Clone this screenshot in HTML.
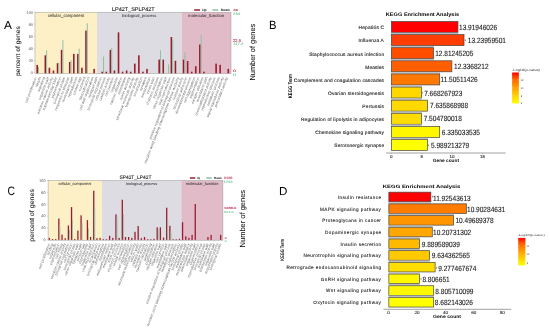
<!DOCTYPE html>
<html><head><meta charset="utf-8"><style>
html,body{margin:0;padding:0;background:#fff;}
svg{display:block;font-family:"Liberation Sans",sans-serif;text-rendering:geometricPrecision;}
</style></head><body>
<svg width="550" height="331" viewBox="0 0 550 331">
<defs><filter id="gb" x="0" y="0" width="550" height="331" filterUnits="userSpaceOnUse"><feGaussianBlur stdDeviation="0.3"/></filter></defs>
<g filter="url(#gb)">
<rect width="550" height="331" fill="#fff"/>
<text x="4.1" y="28.8" font-size="11.74" textLength="7.92" lengthAdjust="spacingAndGlyphs" fill="#000">A</text>
<text x="269.1" y="28.8" font-size="11.88" textLength="7.48" lengthAdjust="spacingAndGlyphs" fill="#000">B</text>
<text x="7.38" y="194.98" font-size="12.25" textLength="7.51" lengthAdjust="spacingAndGlyphs" fill="#000">C</text>
<text x="279.07" y="194.8" font-size="11.59" textLength="8.37" lengthAdjust="spacingAndGlyphs" fill="#000">D</text>
<rect x="35" y="12.2" width="62" height="61.4" fill="#fdf0c6"/>
<rect x="97" y="12.2" width="84.9" height="61.4" fill="#dcdce2"/>
<rect x="181.9" y="12.2" width="49.1" height="61.4" fill="#e1bcc8"/>
<rect x="35" y="12.2" width="196" height="61.4" fill="none" stroke="#9a9a9a" stroke-width="0.5"/>
<rect x="36.4" y="65" width="1.6" height="8.3" fill="#9b1d2e"/>
<rect x="38" y="66.8" width="1" height="6.5" fill="#8fc0a4"/>
<rect x="44.53" y="55.3" width="1.6" height="18" fill="#9b1d2e"/>
<rect x="46.13" y="50.3" width="1" height="23" fill="#8fc0a4"/>
<rect x="48.6" y="67.7" width="1.6" height="5.6" fill="#9b1d2e"/>
<rect x="52.66" y="70.5" width="1.6" height="2.8" fill="#9b1d2e"/>
<rect x="56.73" y="63.2" width="1.6" height="10.1" fill="#9b1d2e"/>
<rect x="58.33" y="62.6" width="1" height="10.7" fill="#8fc0a4"/>
<rect x="60.8" y="49.9" width="1.6" height="23.4" fill="#9b1d2e"/>
<rect x="62.4" y="40.2" width="1" height="33.1" fill="#8fc0a4"/>
<rect x="68.93" y="62" width="1.6" height="11.3" fill="#9b1d2e"/>
<rect x="70.53" y="60.2" width="1" height="13.1" fill="#8fc0a4"/>
<rect x="72.99" y="53.9" width="1.6" height="19.4" fill="#9b1d2e"/>
<rect x="77.06" y="53.9" width="1.6" height="19.4" fill="#9b1d2e"/>
<rect x="78.66" y="48.7" width="1" height="24.6" fill="#8fc0a4"/>
<rect x="81.13" y="67.7" width="1.6" height="5.6" fill="#9b1d2e"/>
<rect x="85.19" y="30.6" width="1.6" height="42.7" fill="#9b1d2e"/>
<rect x="86.79" y="23.3" width="1" height="50" fill="#8fc0a4"/>
<rect x="93.32" y="68.9" width="1.6" height="4.4" fill="#9b1d2e"/>
<rect x="101.46" y="71.7" width="1.6" height="1.6" fill="#9b1d2e"/>
<rect x="103.06" y="56.6" width="1" height="16.7" fill="#8fc0a4"/>
<rect x="105.52" y="71.7" width="1.6" height="1.6" fill="#9b1d2e"/>
<rect x="109.59" y="49.9" width="1.6" height="23.4" fill="#9b1d2e"/>
<rect x="111.19" y="48.1" width="1" height="25.2" fill="#8fc0a4"/>
<rect x="113.65" y="70.5" width="1.6" height="2.8" fill="#9b1d2e"/>
<rect x="117.72" y="32.4" width="1.6" height="40.9" fill="#9b1d2e"/>
<rect x="121.79" y="71.7" width="1.6" height="1.6" fill="#9b1d2e"/>
<rect x="125.85" y="70.5" width="1.6" height="2.8" fill="#9b1d2e"/>
<rect x="129.92" y="71.7" width="1.6" height="1.6" fill="#9b1d2e"/>
<rect x="133.98" y="63.6" width="1.6" height="9.7" fill="#9b1d2e"/>
<rect x="138.05" y="55.3" width="1.6" height="18" fill="#9b1d2e"/>
<rect x="142.12" y="71.7" width="1.6" height="1.6" fill="#9b1d2e"/>
<rect x="146.18" y="68.9" width="1.6" height="4.4" fill="#9b1d2e"/>
<rect x="158.38" y="59.6" width="1.6" height="13.7" fill="#9b1d2e"/>
<rect x="159.98" y="50.3" width="1" height="23" fill="#8fc0a4"/>
<rect x="162.45" y="59.6" width="1.6" height="13.7" fill="#9b1d2e"/>
<rect x="168.11" y="64.4" width="1" height="8.9" fill="#8fc0a4"/>
<rect x="170.58" y="37" width="1.6" height="36.3" fill="#9b1d2e"/>
<rect x="172.18" y="39.6" width="1" height="33.7" fill="#8fc0a4"/>
<rect x="174.64" y="60.8" width="1.6" height="12.5" fill="#9b1d2e"/>
<rect x="182.78" y="59.6" width="1.6" height="13.7" fill="#9b1d2e"/>
<rect x="184.38" y="52.3" width="1" height="21" fill="#8fc0a4"/>
<rect x="186.84" y="61" width="1.6" height="12.3" fill="#9b1d2e"/>
<rect x="190.91" y="71.7" width="1.6" height="1.6" fill="#9b1d2e"/>
<rect x="194.97" y="66.2" width="1.6" height="7.1" fill="#9b1d2e"/>
<rect x="199.04" y="44.5" width="1.6" height="28.8" fill="#9b1d2e"/>
<rect x="200.64" y="34.8" width="1" height="38.5" fill="#8fc0a4"/>
<rect x="203.11" y="71.7" width="1.6" height="1.6" fill="#9b1d2e"/>
<rect x="215.3" y="63.6" width="1.6" height="9.7" fill="#9b1d2e"/>
<rect x="219.37" y="64.8" width="1.6" height="8.5" fill="#9b1d2e"/>
<rect x="227.5" y="68.9" width="1.6" height="4.4" fill="#9b1d2e"/>
<rect x="48.1" y="180.5" width="53.9" height="59.7" fill="#fdf0c6"/>
<rect x="102" y="180.5" width="79.3" height="59.7" fill="#dcdce2"/>
<rect x="181.3" y="180.5" width="41.6" height="59.7" fill="#e1bcc8"/>
<rect x="48.1" y="180.5" width="174.8" height="59.7" fill="none" stroke="#9a9a9a" stroke-width="0.5"/>
<rect x="48.7" y="237.9" width="1.3" height="2" fill="#9b1d2e"/>
<rect x="51.87" y="239" width="1.3" height="0.9" fill="#9b1d2e"/>
<rect x="55.04" y="239" width="1.3" height="0.9" fill="#9b1d2e"/>
<rect x="58.22" y="218.5" width="1.3" height="21.4" fill="#9b1d2e"/>
<rect x="59.52" y="226.1" width="0.8" height="13.8" fill="#8fc0a4"/>
<rect x="61.39" y="234.6" width="1.3" height="5.3" fill="#9b1d2e"/>
<rect x="64.56" y="238.2" width="1.3" height="1.7" fill="#9b1d2e"/>
<rect x="67.73" y="225.5" width="1.3" height="14.4" fill="#9b1d2e"/>
<rect x="69.03" y="229.8" width="0.8" height="10.1" fill="#8fc0a4"/>
<rect x="70.9" y="207.1" width="1.3" height="32.8" fill="#9b1d2e"/>
<rect x="72.2" y="219.5" width="0.8" height="20.4" fill="#8fc0a4"/>
<rect x="74.08" y="239" width="1.3" height="0.9" fill="#9b1d2e"/>
<rect x="77.25" y="230.6" width="1.3" height="9.3" fill="#9b1d2e"/>
<rect x="80.42" y="215.3" width="1.3" height="24.6" fill="#9b1d2e"/>
<rect x="81.72" y="223.1" width="0.8" height="16.8" fill="#8fc0a4"/>
<rect x="86.76" y="220.1" width="1.3" height="19.8" fill="#9b1d2e"/>
<rect x="88.06" y="228.5" width="0.8" height="11.4" fill="#8fc0a4"/>
<rect x="89.94" y="237" width="1.3" height="2.9" fill="#9b1d2e"/>
<rect x="93.11" y="190.7" width="1.3" height="49.2" fill="#9b1d2e"/>
<rect x="94.41" y="208.5" width="0.8" height="31.4" fill="#8fc0a4"/>
<rect x="96.28" y="238.2" width="1.3" height="1.7" fill="#9b1d2e"/>
<rect x="99.45" y="237.9" width="1.3" height="2" fill="#9b1d2e"/>
<rect x="102.62" y="239.2" width="1.3" height="0.7" fill="#9b1d2e"/>
<rect x="105.8" y="239.2" width="1.3" height="0.7" fill="#9b1d2e"/>
<rect x="108.97" y="235.8" width="1.3" height="4.1" fill="#9b1d2e"/>
<rect x="112.14" y="237.9" width="1.3" height="2" fill="#9b1d2e"/>
<rect x="115.31" y="214.4" width="1.3" height="25.5" fill="#9b1d2e"/>
<rect x="116.61" y="217.1" width="0.8" height="22.8" fill="#8fc0a4"/>
<rect x="118.48" y="237.9" width="1.3" height="2" fill="#9b1d2e"/>
<rect x="121.66" y="199.7" width="1.3" height="40.2" fill="#9b1d2e"/>
<rect x="122.96" y="214" width="0.8" height="25.9" fill="#8fc0a4"/>
<rect x="124.83" y="237" width="1.3" height="2.9" fill="#9b1d2e"/>
<rect x="128" y="237" width="1.3" height="2.9" fill="#9b1d2e"/>
<rect x="131.17" y="237.9" width="1.3" height="2" fill="#9b1d2e"/>
<rect x="134.34" y="231.8" width="1.3" height="8.1" fill="#9b1d2e"/>
<rect x="137.52" y="226.1" width="1.3" height="13.8" fill="#9b1d2e"/>
<rect x="140.69" y="238.2" width="1.3" height="1.7" fill="#9b1d2e"/>
<rect x="143.86" y="237" width="1.3" height="2.9" fill="#9b1d2e"/>
<rect x="147.03" y="239.2" width="1.3" height="0.7" fill="#9b1d2e"/>
<rect x="150.2" y="239.2" width="1.3" height="0.7" fill="#9b1d2e"/>
<rect x="153.38" y="238.8" width="1.3" height="1.1" fill="#9b1d2e"/>
<rect x="156.55" y="227.3" width="1.3" height="12.6" fill="#9b1d2e"/>
<rect x="157.85" y="229.2" width="0.8" height="10.7" fill="#8fc0a4"/>
<rect x="159.72" y="227.3" width="1.3" height="12.6" fill="#9b1d2e"/>
<rect x="162.89" y="237.6" width="1.3" height="2.3" fill="#9b1d2e"/>
<rect x="166.06" y="207.7" width="1.3" height="32.2" fill="#9b1d2e"/>
<rect x="167.36" y="220.7" width="0.8" height="19.2" fill="#8fc0a4"/>
<rect x="169.24" y="225.8" width="1.3" height="14.1" fill="#9b1d2e"/>
<rect x="170.54" y="231.6" width="0.8" height="8.3" fill="#8fc0a4"/>
<rect x="172.41" y="239.2" width="1.3" height="0.7" fill="#9b1d2e"/>
<rect x="175.58" y="239.2" width="1.3" height="0.7" fill="#9b1d2e"/>
<rect x="178.75" y="238.8" width="1.3" height="1.1" fill="#9b1d2e"/>
<rect x="181.92" y="222.2" width="1.3" height="17.7" fill="#9b1d2e"/>
<rect x="185.1" y="236.3" width="1.3" height="3.6" fill="#9b1d2e"/>
<rect x="188.27" y="237.8" width="1.3" height="2.1" fill="#9b1d2e"/>
<rect x="191.44" y="234.9" width="1.3" height="5" fill="#9b1d2e"/>
<rect x="194.61" y="204" width="1.3" height="35.9" fill="#9b1d2e"/>
<rect x="207.3" y="237" width="1.3" height="2.9" fill="#9b1d2e"/>
<rect x="210.47" y="234.9" width="1.3" height="5" fill="#9b1d2e"/>
<rect x="219.99" y="234.9" width="1.3" height="5" fill="#9b1d2e"/>
<text x="30.87" y="74" font-size="3.9" textLength="2.17" lengthAdjust="spacingAndGlyphs" fill="#8a8a8a" stroke="#8a8a8a" stroke-width="0.12">0</text>
<line x1="33.9" y1="72.6" x2="35" y2="72.6" stroke="#999" stroke-width="0.4"/>
<text x="28.71" y="61.9" font-size="3.9" textLength="4.34" lengthAdjust="spacingAndGlyphs" fill="#8a8a8a" stroke="#8a8a8a" stroke-width="0.12">20</text>
<line x1="33.9" y1="60.5" x2="35" y2="60.5" stroke="#999" stroke-width="0.4"/>
<text x="28.71" y="49.9" font-size="3.9" textLength="4.34" lengthAdjust="spacingAndGlyphs" fill="#8a8a8a" stroke="#8a8a8a" stroke-width="0.12">40</text>
<line x1="33.9" y1="48.5" x2="35" y2="48.5" stroke="#999" stroke-width="0.4"/>
<text x="28.71" y="37.7" font-size="3.9" textLength="4.34" lengthAdjust="spacingAndGlyphs" fill="#8a8a8a" stroke="#8a8a8a" stroke-width="0.12">60</text>
<line x1="33.9" y1="36.3" x2="35" y2="36.3" stroke="#999" stroke-width="0.4"/>
<text x="28.71" y="25.6" font-size="3.9" textLength="4.34" lengthAdjust="spacingAndGlyphs" fill="#8a8a8a" stroke="#8a8a8a" stroke-width="0.12">80</text>
<line x1="33.9" y1="24.2" x2="35" y2="24.2" stroke="#999" stroke-width="0.4"/>
<text x="26.54" y="13.5" font-size="3.9" textLength="6.51" lengthAdjust="spacingAndGlyphs" fill="#8a8a8a" stroke="#8a8a8a" stroke-width="0.12">100</text>
<line x1="33.9" y1="12.1" x2="35" y2="12.1" stroke="#999" stroke-width="0.4"/>
<text x="111.96" y="10.9" font-size="5.43" textLength="42.66" lengthAdjust="spacingAndGlyphs" fill="#111" stroke="#111" stroke-width="0.08">LP42T_SPLP42T</text>
<rect x="194.2" y="9.3" width="5.8" height="1.4" fill="#8e1426"/>
<rect x="212.4" y="9.3" width="5.8" height="1.4" fill="#86bd9c"/>
<text x="201.93" y="11" font-size="3.04" textLength="4.52" lengthAdjust="spacingAndGlyphs" fill="#222" stroke="#222" stroke-width="0.1">Up</text>
<text x="220.72" y="11" font-size="3.04" textLength="9.02" lengthAdjust="spacingAndGlyphs" fill="#222" stroke="#222" stroke-width="0.1">Down</text>
<text x="47.73" y="16.8" font-size="4.41" textLength="36.5" lengthAdjust="spacingAndGlyphs" fill="#333" stroke="#333" stroke-width="0.03">cellular_component</text>
<text x="122.13" y="16.8" font-size="4.14" textLength="34.23" lengthAdjust="spacingAndGlyphs" fill="#333" stroke="#333" stroke-width="0.03">biological_process</text>
<text x="188.12" y="16.8" font-size="4.14" textLength="36.15" lengthAdjust="spacingAndGlyphs" fill="#333" stroke="#333" stroke-width="0.03">molecular_function</text>
<text x="233.21" y="10.9" font-size="2.9" textLength="4.98" lengthAdjust="spacingAndGlyphs" fill="#c8506e" stroke="#c8506e" stroke-width="0.15">45</text>
<text x="233.09" y="14.8" font-size="3.57" textLength="6.95" lengthAdjust="spacingAndGlyphs" fill="#8fcaa8" stroke="#8fcaa8" stroke-width="0.15">234</text>
<text x="232.68" y="41.8" font-size="4.14" textLength="8.5" lengthAdjust="spacingAndGlyphs" fill="#c8506e" stroke="#c8506e" stroke-width="0.15">22.5</text>
<text x="233.3" y="45.2" font-size="3.57" textLength="9.86" lengthAdjust="spacingAndGlyphs" fill="#8fcaa8" stroke="#8fcaa8" stroke-width="0.15">117.0</text>
<text x="232.86" y="72.2" font-size="3.43" textLength="3.36" lengthAdjust="spacingAndGlyphs" fill="#c8506e" stroke="#c8506e" stroke-width="0.15">0</text>
<text x="232.86" y="75.9" font-size="3.57" textLength="3.36" lengthAdjust="spacingAndGlyphs" fill="#8fcaa8" stroke="#8fcaa8" stroke-width="0.15">0</text>
<text x="-75.93" y="20.25" font-size="6.42" textLength="49.77" lengthAdjust="spacingAndGlyphs" fill="#111" stroke="#111" stroke-width="0.06" transform="rotate(-90 0 0)">percent of genes</text>
<text x="-80.59" y="254.97" font-size="7.27" textLength="56.86" lengthAdjust="spacingAndGlyphs" fill="#111" stroke="#111" stroke-width="0.06" transform="rotate(-90 0 0)">Number of genes</text>
<text x="43.42" y="241.17" font-size="3.8" textLength="2.11" lengthAdjust="spacingAndGlyphs" fill="#8a8a8a" stroke="#8a8a8a" stroke-width="0.12">0</text>
<line x1="47" y1="239.8" x2="48.1" y2="239.8" stroke="#999" stroke-width="0.4"/>
<text x="41.31" y="229.37" font-size="3.8" textLength="4.23" lengthAdjust="spacingAndGlyphs" fill="#8a8a8a" stroke="#8a8a8a" stroke-width="0.12">20</text>
<line x1="47" y1="228" x2="48.1" y2="228" stroke="#999" stroke-width="0.4"/>
<text x="41.31" y="217.47" font-size="3.8" textLength="4.23" lengthAdjust="spacingAndGlyphs" fill="#8a8a8a" stroke="#8a8a8a" stroke-width="0.12">40</text>
<line x1="47" y1="216.1" x2="48.1" y2="216.1" stroke="#999" stroke-width="0.4"/>
<text x="41.31" y="205.57" font-size="3.8" textLength="4.23" lengthAdjust="spacingAndGlyphs" fill="#8a8a8a" stroke="#8a8a8a" stroke-width="0.12">60</text>
<line x1="47" y1="204.2" x2="48.1" y2="204.2" stroke="#999" stroke-width="0.4"/>
<text x="41.31" y="193.77" font-size="3.8" textLength="4.23" lengthAdjust="spacingAndGlyphs" fill="#8a8a8a" stroke="#8a8a8a" stroke-width="0.12">80</text>
<line x1="47" y1="192.4" x2="48.1" y2="192.4" stroke="#999" stroke-width="0.4"/>
<text x="39.21" y="181.97" font-size="3.8" textLength="6.34" lengthAdjust="spacingAndGlyphs" fill="#8a8a8a" stroke="#8a8a8a" stroke-width="0.12">100</text>
<line x1="47" y1="180.6" x2="48.1" y2="180.6" stroke="#999" stroke-width="0.4"/>
<text x="119.38" y="179" font-size="5.14" textLength="32.12" lengthAdjust="spacingAndGlyphs" fill="#111" stroke="#111" stroke-width="0.08">SP42T_LP42T</text>
<rect x="189.9" y="177.3" width="5.4" height="1.4" fill="#8e1426"/>
<rect x="206.2" y="177.3" width="5.5" height="1.4" fill="#86bd9c"/>
<text x="197.02" y="178.9" font-size="2.75" textLength="3.09" lengthAdjust="spacingAndGlyphs" fill="#222" stroke="#222" stroke-width="0.1">Up</text>
<text x="213.96" y="178.9" font-size="2.75" textLength="7.74" lengthAdjust="spacingAndGlyphs" fill="#222" stroke="#222" stroke-width="0.1">Down</text>
<text x="58.55" y="185" font-size="4" textLength="32.78" lengthAdjust="spacingAndGlyphs" fill="#333" stroke="#333" stroke-width="0.03">cellular_component</text>
<text x="126.16" y="185" font-size="3.86" textLength="30.88" lengthAdjust="spacingAndGlyphs" fill="#333" stroke="#333" stroke-width="0.03">biological_process</text>
<text x="185.85" y="185" font-size="4" textLength="32.5" lengthAdjust="spacingAndGlyphs" fill="#333" stroke="#333" stroke-width="0.03">molecular_function</text>
<text x="223.7" y="179.2" font-size="3.14" textLength="8.9" lengthAdjust="spacingAndGlyphs" fill="#c8506e" stroke="#c8506e" stroke-width="0.15">2132</text>
<text x="223.6" y="182.8" font-size="3.29" textLength="8.96" lengthAdjust="spacingAndGlyphs" fill="#8fcaa8" stroke="#8fcaa8" stroke-width="0.15">1243</text>
<text x="224.11" y="209.3" font-size="3" textLength="12.03" lengthAdjust="spacingAndGlyphs" fill="#c8506e" stroke="#c8506e" stroke-width="0.15">1066.0</text>
<text x="224.21" y="212.5" font-size="2.86" textLength="9.45" lengthAdjust="spacingAndGlyphs" fill="#8fcaa8" stroke="#8fcaa8" stroke-width="0.15">621.5</text>
<text x="224.68" y="238.8" font-size="2.57" textLength="1.74" lengthAdjust="spacingAndGlyphs" fill="#c8506e" stroke="#c8506e" stroke-width="0.15">0</text>
<text x="224.68" y="242.1" font-size="2.57" textLength="1.74" lengthAdjust="spacingAndGlyphs" fill="#8fcaa8" stroke="#8fcaa8" stroke-width="0.15">0</text>
<text x="-241.66" y="34.03" font-size="6.52" textLength="52.61" lengthAdjust="spacingAndGlyphs" fill="#111" stroke="#111" stroke-width="0.06" transform="rotate(-90 0 0)">percent of genes</text>
<text x="-247.4" y="244.75" font-size="7.38" textLength="57.47" lengthAdjust="spacingAndGlyphs" fill="#111" stroke="#111" stroke-width="0.06" transform="rotate(-90 0 0)">Number of genes</text>
<defs><filter id="lb" x="-5%" y="-5%" width="110%" height="110%"><feGaussianBlur stdDeviation="0.28"/></filter></defs>
<g filter="url(#lb)">
<text x="147.6" y="310.4" font-size="14" text-anchor="end" textLength="109.62" lengthAdjust="spacingAndGlyphs" fill="#666" transform="scale(0.2500) rotate(-69.0 147.6 310.4)">cell proliferation</text>
<text x="163.86" y="310.4" font-size="14" text-anchor="end" textLength="41.8" lengthAdjust="spacingAndGlyphs" fill="#666" transform="scale(0.2500) rotate(-69.0 163.86 310.4)">death</text>
<text x="180.13" y="310.4" font-size="14" text-anchor="end" textLength="61.52" lengthAdjust="spacingAndGlyphs" fill="#666" transform="scale(0.2500) rotate(-69.0 180.13 310.4)">signaling</text>
<text x="196.39" y="310.4" font-size="14" text-anchor="end" textLength="96.72" lengthAdjust="spacingAndGlyphs" fill="#666" transform="scale(0.2500) rotate(-69.0 196.39 310.4)">organelle part</text>
<text x="212.66" y="310.4" font-size="14" text-anchor="end" textLength="156.6" lengthAdjust="spacingAndGlyphs" fill="#666" transform="scale(0.2500) rotate(-69.0 212.66 310.4)">electron carrier activity</text>
<text x="228.92" y="310.4" font-size="14" text-anchor="end" textLength="140.78" lengthAdjust="spacingAndGlyphs" fill="#666" transform="scale(0.2500) rotate(-69.0 228.92 310.4)">supramolecular fiber</text>
<text x="245.18" y="310.4" font-size="14" text-anchor="end" textLength="90.06" lengthAdjust="spacingAndGlyphs" fill="#666" transform="scale(0.2500) rotate(-69.0 245.18 310.4)">pigmentation</text>
<text x="261.45" y="310.4" font-size="14" text-anchor="end" textLength="113.78" lengthAdjust="spacingAndGlyphs" fill="#666" transform="scale(0.2500) rotate(-69.0 261.45 310.4)">biological phase</text>
<text x="277.71" y="310.4" font-size="14" text-anchor="end" textLength="141.56" lengthAdjust="spacingAndGlyphs" fill="#666" transform="scale(0.2500) rotate(-69.0 277.71 310.4)">response to stimulus</text>
<text x="293.98" y="310.4" font-size="14" text-anchor="end" textLength="105.1" lengthAdjust="spacingAndGlyphs" fill="#666" transform="scale(0.2500) rotate(-69.0 293.98 310.4)">membrane part</text>
<text x="310.24" y="310.4" font-size="14" text-anchor="end" textLength="86" lengthAdjust="spacingAndGlyphs" fill="#666" transform="scale(0.2500) rotate(-69.0 310.24 310.4)">reproduction</text>
<text x="326.5" y="310.4" font-size="14" text-anchor="end" textLength="74.05" lengthAdjust="spacingAndGlyphs" fill="#666" transform="scale(0.2500) rotate(-69.0 326.5 310.4)">protein tag</text>
<text x="342.77" y="310.4" font-size="14" text-anchor="end" textLength="58.03" lengthAdjust="spacingAndGlyphs" fill="#666" transform="scale(0.2500) rotate(-69.0 342.77 310.4)">nucleoid</text>
<text x="359.03" y="310.4" font-size="14" text-anchor="end" textLength="97.79" lengthAdjust="spacingAndGlyphs" fill="#666" transform="scale(0.2500) rotate(-69.0 359.03 310.4)">detoxification</text>
<text x="375.3" y="310.4" font-size="14" text-anchor="end" textLength="141.65" lengthAdjust="spacingAndGlyphs" fill="#666" transform="scale(0.2500) rotate(-69.0 375.3 310.4)">cell wall organization</text>
<text x="391.56" y="310.4" font-size="14" text-anchor="end" textLength="88.55" lengthAdjust="spacingAndGlyphs" fill="#666" transform="scale(0.2500) rotate(-69.0 391.56 310.4)">synapse part</text>
<text x="407.82" y="310.4" font-size="14" text-anchor="end" textLength="142.08" lengthAdjust="spacingAndGlyphs" fill="#666" transform="scale(0.2500) rotate(-69.0 407.82 310.4)">biological regulation</text>
<text x="424.09" y="310.4" font-size="14" text-anchor="end" textLength="101.05" lengthAdjust="spacingAndGlyphs" fill="#666" transform="scale(0.2500) rotate(-69.0 424.09 310.4)">cellular process</text>
<text x="440.35" y="310.4" font-size="14" text-anchor="end" textLength="100.6" lengthAdjust="spacingAndGlyphs" fill="#666" transform="scale(0.2500) rotate(-69.0 440.35 310.4)">catalytic activity</text>
<text x="456.62" y="310.4" font-size="14" text-anchor="end" textLength="81.64" lengthAdjust="spacingAndGlyphs" fill="#666" transform="scale(0.2500) rotate(-69.0 456.62 310.4)">cell junction</text>
<text x="472.88" y="310.4" font-size="14" text-anchor="end" textLength="65.34" lengthAdjust="spacingAndGlyphs" fill="#666" transform="scale(0.2500) rotate(-69.0 472.88 310.4)">organelle</text>
<text x="489.14" y="310.4" font-size="14" text-anchor="end" textLength="117.64" lengthAdjust="spacingAndGlyphs" fill="#666" transform="scale(0.2500) rotate(-69.0 489.14 310.4)">carbon utilization</text>
<text x="505.41" y="310.4" font-size="14" text-anchor="end" textLength="73.7" lengthAdjust="spacingAndGlyphs" fill="#666" transform="scale(0.2500) rotate(-69.0 505.41 310.4)">membrane</text>
<text x="521.67" y="310.4" font-size="14" text-anchor="end" textLength="96.29" lengthAdjust="spacingAndGlyphs" fill="#666" transform="scale(0.2500) rotate(-69.0 521.67 310.4)">toxin activity</text>
<text x="537.94" y="310.4" font-size="14" text-anchor="end" textLength="184.49" lengthAdjust="spacingAndGlyphs" fill="#666" transform="scale(0.2500) rotate(-69.0 537.94 310.4)">structural molecule activity</text>
<text x="554.2" y="310.4" font-size="14" text-anchor="end" textLength="128.23" lengthAdjust="spacingAndGlyphs" fill="#666" transform="scale(0.2500) rotate(-69.0 554.2 310.4)">transporter activity</text>
<text x="570.46" y="310.4" font-size="14" text-anchor="end" textLength="82.2" lengthAdjust="spacingAndGlyphs" fill="#666" transform="scale(0.2500) rotate(-69.0 570.46 310.4)">localization</text>
<text x="586.73" y="310.4" font-size="14" text-anchor="end" textLength="57.15" lengthAdjust="spacingAndGlyphs" fill="#666" transform="scale(0.2500) rotate(-69.0 586.73 310.4)">synapse</text>
<text x="602.99" y="310.4" font-size="14" text-anchor="end" textLength="86.34" lengthAdjust="spacingAndGlyphs" fill="#666" transform="scale(0.2500) rotate(-69.0 602.99 310.4)">locomotion</text>
<text x="619.26" y="310.4" font-size="14" text-anchor="end" textLength="72.18" lengthAdjust="spacingAndGlyphs" fill="#666" transform="scale(0.2500) rotate(-69.0 619.26 310.4)">virion part</text>
<text x="635.52" y="310.4" font-size="14" text-anchor="end" textLength="117.52" lengthAdjust="spacingAndGlyphs" fill="#666" transform="scale(0.2500) rotate(-69.0 635.52 310.4)">rhythmic process</text>
<text x="651.78" y="310.4" font-size="14" text-anchor="end" textLength="90.06" lengthAdjust="spacingAndGlyphs" fill="#666" transform="scale(0.2500) rotate(-69.0 651.78 310.4)">pigmentation</text>
<text x="668.05" y="310.4" font-size="14" text-anchor="end" textLength="136.73" lengthAdjust="spacingAndGlyphs" fill="#666" transform="scale(0.2500) rotate(-69.0 668.05 310.4)">other organism part</text>
<text x="684.31" y="310.4" font-size="14" text-anchor="end" textLength="121.12" lengthAdjust="spacingAndGlyphs" fill="#666" transform="scale(0.2500) rotate(-69.0 684.31 310.4)">viral reproduction</text>
<text x="700.58" y="310.4" font-size="14" text-anchor="end" textLength="265.52" lengthAdjust="spacingAndGlyphs" fill="#666" transform="scale(0.2500) rotate(-69.0 700.58 310.4)">positive regulation of biological process</text>
<text x="716.84" y="310.4" font-size="14" text-anchor="end" textLength="369.18" lengthAdjust="spacingAndGlyphs" fill="#666" transform="scale(0.2500) rotate(-69.0 716.84 310.4)">nucleic acid binding transcription factor activity</text>
<text x="733.1" y="310.4" font-size="14" text-anchor="end" textLength="96.87" lengthAdjust="spacingAndGlyphs" fill="#666" transform="scale(0.2500) rotate(-69.0 733.1 310.4)">receptor activity</text>
<text x="749.37" y="310.4" font-size="14" text-anchor="end" textLength="138.14" lengthAdjust="spacingAndGlyphs" fill="#666" transform="scale(0.2500) rotate(-69.0 749.37 310.4)">biological adhesion</text>
<text x="765.63" y="310.4" font-size="14" text-anchor="end" textLength="157.13" lengthAdjust="spacingAndGlyphs" fill="#666" transform="scale(0.2500) rotate(-69.0 765.63 310.4)">developmental process</text>
<text x="781.9" y="310.4" font-size="14" text-anchor="end" textLength="109.64" lengthAdjust="spacingAndGlyphs" fill="#666" transform="scale(0.2500) rotate(-69.0 781.9 310.4)">cell aggregation</text>
<text x="798.16" y="310.4" font-size="14" text-anchor="end" textLength="90.06" lengthAdjust="spacingAndGlyphs" fill="#666" transform="scale(0.2500) rotate(-69.0 798.16 310.4)">pigmentation</text>
<text x="814.42" y="310.4" font-size="14" text-anchor="end" textLength="113.85" lengthAdjust="spacingAndGlyphs" fill="#666" transform="scale(0.2500) rotate(-69.0 814.42 310.4)">nitrogen utilization</text>
<text x="830.69" y="310.4" font-size="14" text-anchor="end" textLength="105.1" lengthAdjust="spacingAndGlyphs" fill="#666" transform="scale(0.2500) rotate(-69.0 830.69 310.4)">membrane part</text>
<text x="846.95" y="310.4" font-size="14" text-anchor="end" textLength="164.62" lengthAdjust="spacingAndGlyphs" fill="#666" transform="scale(0.2500) rotate(-69.0 846.95 310.4)">chemoattractant activity</text>
<text x="863.22" y="310.4" font-size="14" text-anchor="end" textLength="141.49" lengthAdjust="spacingAndGlyphs" fill="#666" transform="scale(0.2500) rotate(-69.0 863.22 310.4)">reproductive process</text>
<text x="879.48" y="310.4" font-size="14" text-anchor="end" textLength="121.5" lengthAdjust="spacingAndGlyphs" fill="#666" transform="scale(0.2500) rotate(-69.0 879.48 310.4)">metabolic process</text>
<text x="895.74" y="310.4" font-size="14" text-anchor="end" textLength="172.46" lengthAdjust="spacingAndGlyphs" fill="#666" transform="scale(0.2500) rotate(-69.0 895.74 310.4)">signal transducer activity</text>
<text x="912.01" y="310.4" font-size="14" text-anchor="end" textLength="128.65" lengthAdjust="spacingAndGlyphs" fill="#666" transform="scale(0.2500) rotate(-69.0 912.01 310.4)">antioxidant activity</text>
<text x="201.2" y="975.6" font-size="14" text-anchor="end" textLength="109.62" lengthAdjust="spacingAndGlyphs" fill="#666" transform="scale(0.2500) rotate(-69.0 201.2 975.6)">cell proliferation</text>
<text x="213.89" y="975.6" font-size="14" text-anchor="end" textLength="50.02" lengthAdjust="spacingAndGlyphs" fill="#666" transform="scale(0.2500) rotate(-69.0 213.89 975.6)">binding</text>
<text x="226.58" y="975.6" font-size="14" text-anchor="end" textLength="65.34" lengthAdjust="spacingAndGlyphs" fill="#666" transform="scale(0.2500) rotate(-69.0 226.58 975.6)">organelle</text>
<text x="239.26" y="975.6" font-size="14" text-anchor="end" textLength="90.06" lengthAdjust="spacingAndGlyphs" fill="#666" transform="scale(0.2500) rotate(-69.0 239.26 975.6)">pigmentation</text>
<text x="251.95" y="975.6" font-size="14" text-anchor="end" textLength="65.6" lengthAdjust="spacingAndGlyphs" fill="#666" transform="scale(0.2500) rotate(-69.0 251.95 975.6)">cell killing</text>
<text x="264.64" y="975.6" font-size="14" text-anchor="end" textLength="152.58" lengthAdjust="spacingAndGlyphs" fill="#666" transform="scale(0.2500) rotate(-69.0 264.64 975.6)">electron carrier activity</text>
<text x="277.33" y="975.6" font-size="14" text-anchor="end" textLength="138.02" lengthAdjust="spacingAndGlyphs" fill="#666" transform="scale(0.2500) rotate(-69.0 277.33 975.6)">biological regulation</text>
<text x="290.02" y="975.6" font-size="14" text-anchor="end" textLength="81.64" lengthAdjust="spacingAndGlyphs" fill="#666" transform="scale(0.2500) rotate(-69.0 290.02 975.6)">cell junction</text>
<text x="302.7" y="975.6" font-size="14" text-anchor="end" textLength="113.78" lengthAdjust="spacingAndGlyphs" fill="#666" transform="scale(0.2500) rotate(-69.0 302.7 975.6)">biological phase</text>
<text x="315.39" y="975.6" font-size="14" text-anchor="end" textLength="136.73" lengthAdjust="spacingAndGlyphs" fill="#666" transform="scale(0.2500) rotate(-69.0 315.39 975.6)">other organism part</text>
<text x="328.08" y="975.6" font-size="14" text-anchor="end" textLength="88.55" lengthAdjust="spacingAndGlyphs" fill="#666" transform="scale(0.2500) rotate(-69.0 328.08 975.6)">synapse part</text>
<text x="340.77" y="975.6" font-size="14" text-anchor="end" textLength="74.05" lengthAdjust="spacingAndGlyphs" fill="#666" transform="scale(0.2500) rotate(-69.0 340.77 975.6)">protein tag</text>
<text x="353.46" y="975.6" font-size="14" text-anchor="end" textLength="86" lengthAdjust="spacingAndGlyphs" fill="#666" transform="scale(0.2500) rotate(-69.0 353.46 975.6)">reproduction</text>
<text x="366.14" y="975.6" font-size="14" text-anchor="end" textLength="96.72" lengthAdjust="spacingAndGlyphs" fill="#666" transform="scale(0.2500) rotate(-69.0 366.14 975.6)">organelle part</text>
<text x="378.83" y="975.6" font-size="14" text-anchor="end" textLength="121.12" lengthAdjust="spacingAndGlyphs" fill="#666" transform="scale(0.2500) rotate(-69.0 378.83 975.6)">viral reproduction</text>
<text x="391.52" y="975.6" font-size="14" text-anchor="end" textLength="82.2" lengthAdjust="spacingAndGlyphs" fill="#666" transform="scale(0.2500) rotate(-69.0 391.52 975.6)">localization</text>
<text x="404.21" y="975.6" font-size="14" text-anchor="end" textLength="138.14" lengthAdjust="spacingAndGlyphs" fill="#666" transform="scale(0.2500) rotate(-69.0 404.21 975.6)">biological adhesion</text>
<text x="416.9" y="975.6" font-size="14" text-anchor="end" textLength="89.64" lengthAdjust="spacingAndGlyphs" fill="#666" transform="scale(0.2500) rotate(-69.0 416.9 975.6)">detoxification</text>
<text x="429.58" y="975.6" font-size="14" text-anchor="end" textLength="73.7" lengthAdjust="spacingAndGlyphs" fill="#666" transform="scale(0.2500) rotate(-69.0 429.58 975.6)">membrane</text>
<text x="442.27" y="975.6" font-size="14" text-anchor="end" textLength="137.7" lengthAdjust="spacingAndGlyphs" fill="#666" transform="scale(0.2500) rotate(-69.0 442.27 975.6)">extracellular region</text>
<text x="454.96" y="975.6" font-size="14" text-anchor="end" textLength="105.1" lengthAdjust="spacingAndGlyphs" fill="#666" transform="scale(0.2500) rotate(-69.0 454.96 975.6)">membrane part</text>
<text x="467.65" y="975.6" font-size="14" text-anchor="end" textLength="80.24" lengthAdjust="spacingAndGlyphs" fill="#666" transform="scale(0.2500) rotate(-69.0 467.65 975.6)">toxin activity</text>
<text x="480.34" y="975.6" font-size="14" text-anchor="end" textLength="121.57" lengthAdjust="spacingAndGlyphs" fill="#666" transform="scale(0.2500) rotate(-69.0 480.34 975.6)">rhythmic process</text>
<text x="493.02" y="975.6" font-size="14" text-anchor="end" textLength="97.01" lengthAdjust="spacingAndGlyphs" fill="#666" transform="scale(0.2500) rotate(-69.0 493.02 975.6)">cellular process</text>
<text x="505.71" y="975.6" font-size="14" text-anchor="end" textLength="74.01" lengthAdjust="spacingAndGlyphs" fill="#666" transform="scale(0.2500) rotate(-69.0 505.71 975.6)">locomotion</text>
<text x="518.4" y="975.6" font-size="14" text-anchor="end" textLength="113.7" lengthAdjust="spacingAndGlyphs" fill="#666" transform="scale(0.2500) rotate(-69.0 518.4 975.6)">cell aggregation</text>
<text x="531.09" y="975.6" font-size="14" text-anchor="end" textLength="90.06" lengthAdjust="spacingAndGlyphs" fill="#666" transform="scale(0.2500) rotate(-69.0 531.09 975.6)">pigmentation</text>
<text x="543.78" y="975.6" font-size="14" text-anchor="end" textLength="180.48" lengthAdjust="spacingAndGlyphs" fill="#666" transform="scale(0.2500) rotate(-69.0 543.78 975.6)">structural molecule activity</text>
<text x="556.46" y="975.6" font-size="14" text-anchor="end" textLength="80.2" lengthAdjust="spacingAndGlyphs" fill="#666" transform="scale(0.2500) rotate(-69.0 556.46 975.6)">virion part</text>
<text x="569.15" y="975.6" font-size="14" text-anchor="end" textLength="96.57" lengthAdjust="spacingAndGlyphs" fill="#666" transform="scale(0.2500) rotate(-69.0 569.15 975.6)">catalytic activity</text>
<text x="581.84" y="975.6" font-size="14" text-anchor="end" textLength="104.94" lengthAdjust="spacingAndGlyphs" fill="#666" transform="scale(0.2500) rotate(-69.0 581.84 975.6)">receptor activity</text>
<text x="594.53" y="975.6" font-size="14" text-anchor="end" textLength="121.7" lengthAdjust="spacingAndGlyphs" fill="#666" transform="scale(0.2500) rotate(-69.0 594.53 975.6)">carbon utilization</text>
<text x="607.22" y="975.6" font-size="14" text-anchor="end" textLength="73.82" lengthAdjust="spacingAndGlyphs" fill="#666" transform="scale(0.2500) rotate(-69.0 607.22 975.6)">signaling</text>
<text x="619.9" y="975.6" font-size="14" text-anchor="end" textLength="90.06" lengthAdjust="spacingAndGlyphs" fill="#666" transform="scale(0.2500) rotate(-69.0 619.9 975.6)">pigmentation</text>
<text x="632.59" y="975.6" font-size="14" text-anchor="end" textLength="113.85" lengthAdjust="spacingAndGlyphs" fill="#666" transform="scale(0.2500) rotate(-69.0 632.59 975.6)">nitrogen utilization</text>
<text x="645.28" y="975.6" font-size="14" text-anchor="end" textLength="96.72" lengthAdjust="spacingAndGlyphs" fill="#666" transform="scale(0.2500) rotate(-69.0 645.28 975.6)">organelle part</text>
<text x="657.97" y="975.6" font-size="14" text-anchor="end" textLength="81.64" lengthAdjust="spacingAndGlyphs" fill="#666" transform="scale(0.2500) rotate(-69.0 657.97 975.6)">cell junction</text>
<text x="670.66" y="975.6" font-size="14" text-anchor="end" textLength="105.1" lengthAdjust="spacingAndGlyphs" fill="#666" transform="scale(0.2500) rotate(-69.0 670.66 975.6)">membrane part</text>
<text x="683.34" y="975.6" font-size="14" text-anchor="end" textLength="257.47" lengthAdjust="spacingAndGlyphs" fill="#666" transform="scale(0.2500) rotate(-69.0 683.34 975.6)">positive regulation of biological process</text>
<text x="696.03" y="975.6" font-size="14" text-anchor="end" textLength="121.5" lengthAdjust="spacingAndGlyphs" fill="#666" transform="scale(0.2500) rotate(-69.0 696.03 975.6)">metabolic process</text>
<text x="708.72" y="975.6" font-size="14" text-anchor="end" textLength="90.06" lengthAdjust="spacingAndGlyphs" fill="#666" transform="scale(0.2500) rotate(-69.0 708.72 975.6)">pigmentation</text>
<text x="721.41" y="975.6" font-size="14" text-anchor="end" textLength="353.13" lengthAdjust="spacingAndGlyphs" fill="#666" transform="scale(0.2500) rotate(-69.0 721.41 975.6)">nucleic acid binding transcription factor activity</text>
<text x="734.1" y="975.6" font-size="14" text-anchor="end" textLength="113.78" lengthAdjust="spacingAndGlyphs" fill="#666" transform="scale(0.2500) rotate(-69.0 734.1 975.6)">biological phase</text>
<text x="746.78" y="975.6" font-size="14" text-anchor="end" textLength="105.1" lengthAdjust="spacingAndGlyphs" fill="#666" transform="scale(0.2500) rotate(-69.0 746.78 975.6)">membrane part</text>
<text x="759.47" y="975.6" font-size="14" text-anchor="end" textLength="136.84" lengthAdjust="spacingAndGlyphs" fill="#666" transform="scale(0.2500) rotate(-69.0 759.47 975.6)">extracellular matrix</text>
<text x="772.16" y="975.6" font-size="14" text-anchor="end" textLength="120.61" lengthAdjust="spacingAndGlyphs" fill="#666" transform="scale(0.2500) rotate(-69.0 772.16 975.6)">antioxidant activity</text>
<text x="784.85" y="975.6" font-size="14" text-anchor="end" textLength="96.72" lengthAdjust="spacingAndGlyphs" fill="#666" transform="scale(0.2500) rotate(-69.0 784.85 975.6)">organelle part</text>
<text x="797.54" y="975.6" font-size="14" text-anchor="end" textLength="90.06" lengthAdjust="spacingAndGlyphs" fill="#666" transform="scale(0.2500) rotate(-69.0 797.54 975.6)">pigmentation</text>
<text x="810.22" y="975.6" font-size="14" text-anchor="end" textLength="145.53" lengthAdjust="spacingAndGlyphs" fill="#666" transform="scale(0.2500) rotate(-69.0 810.22 975.6)">reproductive process</text>
<text x="822.91" y="975.6" font-size="14" text-anchor="end" textLength="113.78" lengthAdjust="spacingAndGlyphs" fill="#666" transform="scale(0.2500) rotate(-69.0 822.91 975.6)">biological phase</text>
<text x="835.6" y="975.6" font-size="14" text-anchor="end" textLength="105.1" lengthAdjust="spacingAndGlyphs" fill="#666" transform="scale(0.2500) rotate(-69.0 835.6 975.6)">membrane part</text>
<text x="848.29" y="975.6" font-size="14" text-anchor="end" textLength="120.21" lengthAdjust="spacingAndGlyphs" fill="#666" transform="scale(0.2500) rotate(-69.0 848.29 975.6)">transporter activity</text>
<text x="860.98" y="975.6" font-size="14" text-anchor="end" textLength="96.72" lengthAdjust="spacingAndGlyphs" fill="#666" transform="scale(0.2500) rotate(-69.0 860.98 975.6)">organelle part</text>
<text x="873.66" y="975.6" font-size="14" text-anchor="end" textLength="128.97" lengthAdjust="spacingAndGlyphs" fill="#666" transform="scale(0.2500) rotate(-69.0 873.66 975.6)">morphogen activity</text>
<text x="886.35" y="975.6" font-size="14" text-anchor="end" textLength="113.78" lengthAdjust="spacingAndGlyphs" fill="#666" transform="scale(0.2500) rotate(-69.0 886.35 975.6)">biological phase</text>
</g>
<text x="385.84" y="16.4" font-size="5.1" textLength="73.3" lengthAdjust="spacingAndGlyphs" fill="#000" font-weight="bold">KEGG Enrichment Analysis</text>
<rect x="391.35" y="21.45" width="66.58" height="11" fill="#ff0000" stroke="#454545" stroke-width="0.7"/>
<text x="358.58" y="29.28" font-size="4.8" textLength="25.4" lengthAdjust="spacing" fill="#1e1e1e" stroke="#1e1e1e" stroke-width="0.12">Hepatitis C</text>
<text x="459.01" y="30.31" font-size="7.6" textLength="38.17" lengthAdjust="spacingAndGlyphs" fill="#1a1a1a" stroke="#1a1a1a" stroke-width="0.12">13.91946026</text>
<rect x="391" y="32.8" width="67.28" height="1.42" fill="#b9bcc2"/>
<rect x="391.35" y="34.57" width="72.66" height="11" fill="#ff3c00" stroke="#454545" stroke-width="0.7"/>
<text x="358.54" y="42.4" font-size="4.8" textLength="25.28" lengthAdjust="spacing" fill="#1e1e1e" stroke="#1e1e1e" stroke-width="0.12">Influenza A</text>
<text x="467.81" y="43.03" font-size="7.6" textLength="38.17" lengthAdjust="spacingAndGlyphs" fill="#1a1a1a" stroke="#1a1a1a" stroke-width="0.12">13.23959501</text>
<rect x="391" y="45.92" width="42.96" height="1.42" fill="#b9bcc2"/>
<rect x="391.35" y="47.69" width="42.26" height="11" fill="#ff4e00" stroke="#454545" stroke-width="0.7"/>
<text x="309.16" y="55.52" font-size="4.8" textLength="74.99" lengthAdjust="spacing" fill="#1e1e1e" stroke="#1e1e1e" stroke-width="0.12">Staphylococcus aureus infection</text>
<text x="435.21" y="56.15" font-size="7.6" textLength="38.17" lengthAdjust="spacingAndGlyphs" fill="#1a1a1a" stroke="#1a1a1a" stroke-width="0.12">12.81245205</text>
<rect x="391" y="59.04" width="42.96" height="1.42" fill="#b9bcc2"/>
<rect x="391.35" y="60.81" width="60.5" height="11" fill="#ff5f00" stroke="#454545" stroke-width="0.7"/>
<text x="365.3" y="68.64" font-size="4.8" textLength="18.67" lengthAdjust="spacing" fill="#1e1e1e" stroke="#1e1e1e" stroke-width="0.12">Measles</text>
<text x="454.01" y="69.47" font-size="7.6" textLength="34.53" lengthAdjust="spacingAndGlyphs" fill="#1a1a1a" stroke="#1a1a1a" stroke-width="0.12">12.3368212</text>
<rect x="391" y="72.16" width="49.04" height="1.42" fill="#b9bcc2"/>
<rect x="391.35" y="73.93" width="48.34" height="11" fill="#ff7800" stroke="#454545" stroke-width="0.7"/>
<text x="293.74" y="81.76" font-size="4.8" textLength="90.24" lengthAdjust="spacing" fill="#1e1e1e" stroke="#1e1e1e" stroke-width="0.12">Complement and coagulation cascades</text>
<text x="440.51" y="81.59" font-size="7.6" textLength="37.2" lengthAdjust="spacingAndGlyphs" fill="#1a1a1a" stroke="#1a1a1a" stroke-width="0.12">11.50511426</text>
<rect x="391" y="85.28" width="30.8" height="1.42" fill="#b9bcc2"/>
<rect x="391.35" y="87.05" width="30.1" height="11" fill="#ffd800" stroke="#454545" stroke-width="0.7"/>
<text x="327.97" y="94.88" font-size="4.8" textLength="56.01" lengthAdjust="spacing" fill="#1e1e1e" stroke="#1e1e1e" stroke-width="0.12">Ovarian steroidogenesis</text>
<text x="424.17" y="95.81" font-size="7.6" textLength="38.17" lengthAdjust="spacingAndGlyphs" fill="#1a1a1a" stroke="#1a1a1a" stroke-width="0.12">7.668267923</text>
<rect x="391" y="98.4" width="30.8" height="1.42" fill="#b9bcc2"/>
<rect x="391.35" y="100.17" width="36.18" height="11" fill="#ffd900" stroke="#454545" stroke-width="0.7"/>
<text x="362.28" y="108" font-size="4.8" textLength="21.72" lengthAdjust="spacing" fill="#1e1e1e" stroke="#1e1e1e" stroke-width="0.12">Pertussis</text>
<text x="429.97" y="108.13" font-size="7.6" textLength="38.17" lengthAdjust="spacingAndGlyphs" fill="#1a1a1a" stroke="#1a1a1a" stroke-width="0.12">7.635868988</text>
<rect x="391" y="111.52" width="30.8" height="1.42" fill="#b9bcc2"/>
<rect x="391.35" y="113.29" width="30.1" height="11" fill="#ffdc00" stroke="#454545" stroke-width="0.7"/>
<text x="300.88" y="121.12" font-size="4.8" textLength="83.12" lengthAdjust="spacing" fill="#1e1e1e" stroke="#1e1e1e" stroke-width="0.12">Regulation of lipolysis in adipocytes</text>
<text x="423.67" y="121.25" font-size="7.6" textLength="38.17" lengthAdjust="spacingAndGlyphs" fill="#1a1a1a" stroke="#1a1a1a" stroke-width="0.12">7.504780018</text>
<rect x="391" y="124.64" width="30.8" height="1.42" fill="#b9bcc2"/>
<rect x="391.35" y="126.41" width="48.34" height="11" fill="#fff700" stroke="#454545" stroke-width="0.7"/>
<text x="315.24" y="134.24" font-size="4.8" textLength="68.56" lengthAdjust="spacing" fill="#1e1e1e" stroke="#1e1e1e" stroke-width="0.12">Chemokine signaling pathway</text>
<text x="441.77" y="135.17" font-size="7.6" textLength="38.17" lengthAdjust="spacingAndGlyphs" fill="#1a1a1a" stroke="#1a1a1a" stroke-width="0.12">6.335033535</text>
<rect x="391" y="137.76" width="36.88" height="1.42" fill="#b9bcc2"/>
<rect x="391.35" y="139.53" width="36.18" height="11" fill="#ffff00" stroke="#454545" stroke-width="0.7"/>
<text x="334.37" y="147.36" font-size="4.8" textLength="49.68" lengthAdjust="spacing" fill="#1e1e1e" stroke="#1e1e1e" stroke-width="0.12">Serotonergic synapse</text>
<text x="431.04" y="147.99" font-size="7.6" textLength="38.17" lengthAdjust="spacingAndGlyphs" fill="#1a1a1a" stroke="#1a1a1a" stroke-width="0.12">5.989213279</text>
<line x1="386.1" y1="153" x2="505.6" y2="153" stroke="#8a8a8a" stroke-width="0.8"/>
<line x1="391.4" y1="153" x2="391.4" y2="154.1" stroke="#8a8a8a" stroke-width="0.5"/>
<text x="390.14" y="157.7" font-size="4.3" textLength="2.51" lengthAdjust="spacingAndGlyphs" fill="#333" stroke="#333" stroke-width="0.12">0</text>
<line x1="421.8" y1="153" x2="421.8" y2="154.1" stroke="#8a8a8a" stroke-width="0.5"/>
<text x="420.55" y="157.7" font-size="4.3" textLength="2.51" lengthAdjust="spacingAndGlyphs" fill="#333" stroke="#333" stroke-width="0.12">5</text>
<line x1="452.2" y1="153" x2="452.2" y2="154.1" stroke="#8a8a8a" stroke-width="0.5"/>
<text x="449.6" y="157.7" font-size="4.3" textLength="5.02" lengthAdjust="spacingAndGlyphs" fill="#333" stroke="#333" stroke-width="0.12">10</text>
<line x1="482.6" y1="153" x2="482.6" y2="154.1" stroke="#8a8a8a" stroke-width="0.5"/>
<text x="480.02" y="157.7" font-size="4.3" textLength="5.02" lengthAdjust="spacingAndGlyphs" fill="#333" stroke="#333" stroke-width="0.12">15</text>
<text x="432.81" y="162.3" font-size="4.71" textLength="26.24" lengthAdjust="spacingAndGlyphs" fill="#111" font-weight="bold">Gene count</text>
<text x="-98.28" y="291.6" font-size="5.29" textLength="24.03" lengthAdjust="spacingAndGlyphs" fill="#000" font-weight="bold" transform="rotate(-90 0 0)">KEGG Term</text>
<defs><linearGradient id="gB" x1="0" y1="1" x2="0" y2="0"><stop offset="0.00" stop-color="#ffff00"/><stop offset="0.20" stop-color="#ffdb00"/><stop offset="0.40" stop-color="#ffb500"/><stop offset="0.60" stop-color="#ff8d00"/><stop offset="0.80" stop-color="#ff5f00"/><stop offset="1.00" stop-color="#ff0000"/></linearGradient></defs>
<rect x="512.1" y="72.5" width="6.8" height="31" fill="url(#gB)"/>
<text x="511.92" y="70.9" font-size="3.17" textLength="28.04" lengthAdjust="spacingAndGlyphs" fill="#333">-Log10(p-value)</text>
<text x="520.67" y="104.36" font-size="2.6" textLength="1.45" lengthAdjust="spacingAndGlyphs" fill="#444">6</text>
<line x1="512.1" y1="103.46" x2="513.3" y2="103.46" stroke="#fff" stroke-width="0.3"/>
<line x1="517.7" y1="103.46" x2="518.9" y2="103.46" stroke="#fff" stroke-width="0.3"/>
<text x="520.68" y="96.54" font-size="2.6" textLength="1.45" lengthAdjust="spacingAndGlyphs" fill="#444">8</text>
<line x1="512.1" y1="95.64" x2="513.3" y2="95.64" stroke="#fff" stroke-width="0.3"/>
<line x1="517.7" y1="95.64" x2="518.9" y2="95.64" stroke="#fff" stroke-width="0.3"/>
<text x="520.6" y="88.72" font-size="2.6" textLength="2.89" lengthAdjust="spacingAndGlyphs" fill="#444">10</text>
<line x1="512.1" y1="87.82" x2="513.3" y2="87.82" stroke="#fff" stroke-width="0.3"/>
<line x1="517.7" y1="87.82" x2="518.9" y2="87.82" stroke="#fff" stroke-width="0.3"/>
<text x="520.6" y="80.9" font-size="2.6" textLength="2.89" lengthAdjust="spacingAndGlyphs" fill="#444">12</text>
<line x1="512.1" y1="80" x2="513.3" y2="80" stroke="#fff" stroke-width="0.3"/>
<line x1="517.7" y1="80" x2="518.9" y2="80" stroke="#fff" stroke-width="0.3"/>
<text x="382.82" y="187.8" font-size="4.83" textLength="77.44" lengthAdjust="spacingAndGlyphs" fill="#000" font-weight="bold">KEGG Enrichment Analysis</text>
<rect x="388.85" y="192.15" width="42" height="9.6" fill="#ff0000" stroke="#454545" stroke-width="0.7"/>
<text x="337.69" y="198.81" font-size="4.6" textLength="43.36" lengthAdjust="spacing" fill="#262626" stroke="#262626" stroke-width="0.11">Insulin resistance</text>
<text x="433.01" y="200.81" font-size="7.6" textLength="37.68" lengthAdjust="spacingAndGlyphs" fill="#1a1a1a" stroke="#1a1a1a" stroke-width="0.12">11.92543613</text>
<rect x="388.5" y="202.1" width="42.7" height="1.4" fill="#b9bcc2"/>
<rect x="388.85" y="203.85" width="77.5" height="9.6" fill="#ff7b00" stroke="#454545" stroke-width="0.7"/>
<text x="320.06" y="210.51" font-size="4.6" textLength="60.75" lengthAdjust="spacing" fill="#262626" stroke="#262626" stroke-width="0.11">MAPK signaling pathway</text>
<text x="467.01" y="212.21" font-size="7.6" textLength="38.17" lengthAdjust="spacingAndGlyphs" fill="#1a1a1a" stroke="#1a1a1a" stroke-width="0.12">10.90284631</text>
<rect x="388.5" y="213.8" width="65.42" height="1.4" fill="#b9bcc2"/>
<rect x="388.85" y="215.55" width="64.72" height="9.6" fill="#ff9500" stroke="#454545" stroke-width="0.7"/>
<text x="322.26" y="222.21" font-size="4.6" textLength="58.64" lengthAdjust="spacing" fill="#262626" stroke="#262626" stroke-width="0.11">Proteoglycans in cancer</text>
<text x="455.41" y="222.71" font-size="7.6" textLength="38.17" lengthAdjust="spacingAndGlyphs" fill="#1a1a1a" stroke="#1a1a1a" stroke-width="0.12">10.49689378</text>
<rect x="388.5" y="225.5" width="44.12" height="1.4" fill="#b9bcc2"/>
<rect x="388.85" y="227.25" width="43.42" height="9.6" fill="#ffa700" stroke="#454545" stroke-width="0.7"/>
<text x="325.06" y="233.91" font-size="4.6" textLength="56" lengthAdjust="spacing" fill="#262626" stroke="#262626" stroke-width="0.11">Dopaminergic synapse</text>
<text x="433.01" y="235.01" font-size="7.6" textLength="38.17" lengthAdjust="spacingAndGlyphs" fill="#1a1a1a" stroke="#1a1a1a" stroke-width="0.12">10.20731302</text>
<rect x="388.5" y="237.2" width="31.34" height="1.4" fill="#b9bcc2"/>
<rect x="388.85" y="238.95" width="30.64" height="9.6" fill="#ffba00" stroke="#454545" stroke-width="0.7"/>
<text x="340.39" y="245.61" font-size="4.6" textLength="40.78" lengthAdjust="spacing" fill="#262626" stroke="#262626" stroke-width="0.11">Insulin secretion</text>
<text x="421.71" y="246.61" font-size="7.6" textLength="38.17" lengthAdjust="spacingAndGlyphs" fill="#1a1a1a" stroke="#1a1a1a" stroke-width="0.12">9.889589039</text>
<rect x="388.5" y="248.9" width="31.34" height="1.4" fill="#b9bcc2"/>
<rect x="388.85" y="250.65" width="40.58" height="9.6" fill="#ffc900" stroke="#454545" stroke-width="0.7"/>
<text x="303.56" y="257.31" font-size="4.6" textLength="77.24" lengthAdjust="spacing" fill="#262626" stroke="#262626" stroke-width="0.11">Neurotrophin signaling pathway</text>
<text x="431.71" y="257.91" font-size="7.6" textLength="38.17" lengthAdjust="spacingAndGlyphs" fill="#1a1a1a" stroke="#1a1a1a" stroke-width="0.12">9.634362565</text>
<rect x="388.5" y="260.6" width="41.28" height="1.4" fill="#b9bcc2"/>
<rect x="388.85" y="262.35" width="46.26" height="9.6" fill="#ffde00" stroke="#454545" stroke-width="0.7"/>
<text x="286.56" y="269.01" font-size="4.6" textLength="94.6" lengthAdjust="spacing" fill="#262626" stroke="#262626" stroke-width="0.11">Retrograde endocannabinoid signaling</text>
<text x="438.21" y="271.31" font-size="7.6" textLength="38.17" lengthAdjust="spacingAndGlyphs" fill="#1a1a1a" stroke="#1a1a1a" stroke-width="0.12">9.277467674</text>
<rect x="388.5" y="272.3" width="31.34" height="1.4" fill="#b9bcc2"/>
<rect x="388.85" y="274.05" width="30.64" height="9.6" fill="#fff800" stroke="#454545" stroke-width="0.7"/>
<text x="320.73" y="280.71" font-size="4.6" textLength="60.08" lengthAdjust="spacing" fill="#262626" stroke="#262626" stroke-width="0.11">GnRH signaling pathway</text>
<text x="422.41" y="281.71" font-size="7.6" textLength="27.26" lengthAdjust="spacingAndGlyphs" fill="#1a1a1a" stroke="#1a1a1a" stroke-width="0.12">8.806651</text>
<rect x="388.5" y="284" width="31.34" height="1.4" fill="#b9bcc2"/>
<rect x="388.85" y="285.75" width="44.84" height="9.6" fill="#fff800" stroke="#454545" stroke-width="0.7"/>
<text x="325.97" y="292.41" font-size="4.6" textLength="54.83" lengthAdjust="spacing" fill="#262626" stroke="#262626" stroke-width="0.11">Wnt signaling pathway</text>
<text x="435.31" y="293.61" font-size="7.6" textLength="38.17" lengthAdjust="spacingAndGlyphs" fill="#1a1a1a" stroke="#1a1a1a" stroke-width="0.12">8.805710099</text>
<rect x="388.5" y="295.7" width="45.54" height="1.4" fill="#b9bcc2"/>
<rect x="388.85" y="297.45" width="44.84" height="9.6" fill="#ffff00" stroke="#454545" stroke-width="0.7"/>
<text x="313.35" y="304.11" font-size="4.6" textLength="67.44" lengthAdjust="spacing" fill="#262626" stroke="#262626" stroke-width="0.11">Oxytocin signaling pathway</text>
<text x="434.81" y="305.41" font-size="7.6" textLength="38.17" lengthAdjust="spacingAndGlyphs" fill="#1a1a1a" stroke="#1a1a1a" stroke-width="0.12">8.682143026</text>
<line x1="383.5" y1="309.3" x2="511.3" y2="309.3" stroke="#8a8a8a" stroke-width="0.8"/>
<line x1="388.6" y1="309.3" x2="388.6" y2="310.4" stroke="#8a8a8a" stroke-width="0.5"/>
<text x="387.34" y="313.8" font-size="4.3" textLength="2.51" lengthAdjust="spacingAndGlyphs" fill="#333" stroke="#333" stroke-width="0.12">0</text>
<line x1="417" y1="309.3" x2="417" y2="310.4" stroke="#8a8a8a" stroke-width="0.5"/>
<text x="414.46" y="313.8" font-size="4.3" textLength="5.02" lengthAdjust="spacingAndGlyphs" fill="#333" stroke="#333" stroke-width="0.12">20</text>
<line x1="445.4" y1="309.3" x2="445.4" y2="310.4" stroke="#8a8a8a" stroke-width="0.5"/>
<text x="442.93" y="313.8" font-size="4.3" textLength="5.02" lengthAdjust="spacingAndGlyphs" fill="#333" stroke="#333" stroke-width="0.12">40</text>
<line x1="473.8" y1="309.3" x2="473.8" y2="310.4" stroke="#8a8a8a" stroke-width="0.5"/>
<text x="471.26" y="313.8" font-size="4.3" textLength="5.02" lengthAdjust="spacingAndGlyphs" fill="#333" stroke="#333" stroke-width="0.12">60</text>
<line x1="502.2" y1="309.3" x2="502.2" y2="310.4" stroke="#8a8a8a" stroke-width="0.5"/>
<text x="499.67" y="313.8" font-size="4.3" textLength="5.02" lengthAdjust="spacingAndGlyphs" fill="#333" stroke="#333" stroke-width="0.12">80</text>
<text x="433.1" y="318.3" font-size="4.71" textLength="27.96" lengthAdjust="spacingAndGlyphs" fill="#111" font-weight="bold">Gene count</text>
<text x="-260.65" y="284" font-size="5.14" textLength="21.58" lengthAdjust="spacingAndGlyphs" fill="#000" font-weight="bold" transform="rotate(-90 0 0)">KEGG Term</text>
<defs><linearGradient id="gD" x1="0" y1="1" x2="0" y2="0"><stop offset="0.00" stop-color="#ffff00"/><stop offset="0.20" stop-color="#ffdb00"/><stop offset="0.40" stop-color="#ffb500"/><stop offset="0.60" stop-color="#ff8d00"/><stop offset="0.80" stop-color="#ff5f00"/><stop offset="1.00" stop-color="#ff0000"/></linearGradient></defs>
<rect x="518.2" y="237.9" width="7.2" height="27.6" fill="url(#gD)"/>
<text x="517.73" y="236" font-size="2.76" textLength="27.02" lengthAdjust="spacingAndGlyphs" fill="#333">-Log10(p-value)</text>
<text x="526.68" y="263.7" font-size="2.6" textLength="1.45" lengthAdjust="spacingAndGlyphs" fill="#444">9</text>
<line x1="518.2" y1="262.8" x2="519.4" y2="262.8" stroke="#fff" stroke-width="0.3"/>
<line x1="524.2" y1="262.8" x2="525.4" y2="262.8" stroke="#fff" stroke-width="0.3"/>
<text x="526.6" y="255.19" font-size="2.6" textLength="2.89" lengthAdjust="spacingAndGlyphs" fill="#444">10</text>
<line x1="518.2" y1="254.29" x2="519.4" y2="254.29" stroke="#fff" stroke-width="0.3"/>
<line x1="524.2" y1="254.29" x2="525.4" y2="254.29" stroke="#fff" stroke-width="0.3"/>
<text x="526.6" y="246.68" font-size="2.6" textLength="2.7" lengthAdjust="spacingAndGlyphs" fill="#444">11</text>
<line x1="518.2" y1="245.78" x2="519.4" y2="245.78" stroke="#fff" stroke-width="0.3"/>
<line x1="524.2" y1="245.78" x2="525.4" y2="245.78" stroke="#fff" stroke-width="0.3"/>
<rect x="464.95" y="39.4" width="0.9" height="1.6" fill="#808080"/>
<rect x="422.15" y="91.8" width="0.9" height="1.6" fill="#808080"/>
<rect x="428.15" y="144.5" width="0.9" height="1.6" fill="#808080"/>
<rect x="432.05" y="195.8" width="0.9" height="1.6" fill="#808080"/>
<rect x="436.15" y="267.1" width="0.9" height="1.6" fill="#808080"/>
<rect x="420.55" y="278.2" width="0.9" height="1.6" fill="#808080"/>
</g>
</svg></body></html>
